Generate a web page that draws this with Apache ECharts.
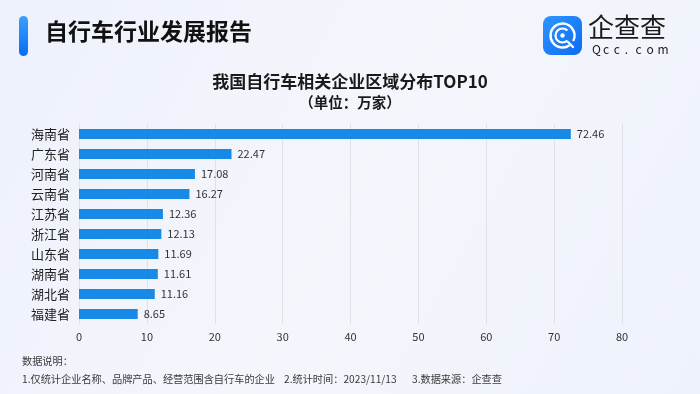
<!DOCTYPE html>
<html><head><meta charset="utf-8">
<script src="https://cdn.jsdelivr.net/npm/echarts@6/dist/echarts.min.js"></script>
<style>html,body{margin:0;padding:0;width:700px;height:394px;overflow:hidden;}#c{width:700px;height:394px;}</style>
</head><body><div id="c"></div>
<script>
const categories = ['海南省','广东省','河南省','云南省','江苏省','浙江省','山东省','湖南省','湖北省','福建省'];
const values = [72.46, 22.47, 17.08, 16.27, 12.36, 12.13, 11.69, 11.61, 11.16, 8.65];
const xTicks = [0, 10, 20, 30, 40, 50, 60, 70, 80];
const noteTitle = '数据说明：';
const notes = ['1.仅统计企业名称、品牌产品、经营范围含自行车的企业', '2.统计时间：2023/11/13', '3.数据来源：企查查'];

const FONT = '"Noto Sans CJK SC", "Noto Sans", sans-serif';
const chart = echarts.init(document.getElementById('c'), null, {renderer: 'canvas'});

const logoChars = 'Qcc.com'.split('');
const logoText = logoChars.map((ch, i) => ({
  type: 'text', x: 592 + i * 10.9, y: 43,
  style: {text: ch, font: '12px ' + FONT, fill: '#1a1a1a'}
}));
const noteX = [22, 284, 412];
const noteText = notes.map((t, i) => ({
  type: 'text', left: noteX[i], top: 374,
  style: {text: t, font: '10.2px ' + FONT, fill: '#3a3a3a'}
}));

chart.setOption({
  backgroundColor: {
    type: 'linear', x: 0, y: 0, x2: 1, y2: 1,
    colorStops: [{offset: 0, color: '#edf1fb'}, {offset: 0.5, color: '#f4f6fc'}, {offset: 1, color: '#eef2fb'}]
  },
  textStyle: {fontFamily: FONT},
  title: [
    {text: '我国自行车相关企业区域分布TOP10', left: 'center', top: 68,
     textStyle: {fontSize: 17, fontWeight: 'bold', color: '#1a1a1a', fontFamily: FONT}},
    {text: '（单位：万家）', left: 'center', top: 90,
     textStyle: {fontSize: 14.5, fontWeight: 'bold', color: '#1a1a1a', fontFamily: FONT}}
  ],
  grid: {left: 79, right: 78, top: 124, bottom: 70, containLabel: false},
  xAxis: {
    type: 'value', min: xTicks[0], max: xTicks[xTicks.length - 1], interval: 10,
    axisLine: {show: false}, axisTick: {show: false},
    axisLabel: {color: '#333', fontSize: 11, margin: 7, fontFamily: FONT},
    splitLine: {show: true, lineStyle: {color: '#dfe1e6', width: 1}}
  },
  yAxis: {
    type: 'category', data: categories, inverse: true,
    axisLine: {show: false}, axisTick: {show: false},
    axisLabel: {color: '#222', fontSize: 13, margin: 9, fontFamily: FONT}
  },
  series: [{
    type: 'bar', data: values, barWidth: 10,
    itemStyle: {color: '#1789e6'},
    label: {show: true, position: 'right', distance: 6, color: '#333', fontSize: 11, fontFamily: FONT,
            formatter: p => p.value.toFixed(2)}
  }],
  graphic: [
    {type: 'rect', left: 19, top: 16, shape: {width: 9, height: 40, r: 4.5},
     style: {fill: {type: 'linear', x: 0, y: 0, x2: 0, y2: 1, colorStops: [{offset: 0, color: '#3aa0ff'}, {offset: 1, color: '#0a6cf0'}]}}},
    {type: 'text', left: 45, top: 20, style: {text: '自行车行业发展报告', font: 'bold 23px ' + FONT, fill: '#111'}},
    {type: 'rect', left: 543, top: 16, shape: {width: 39, height: 39, r: 8},
     style: {fill: {type: 'linear', x: 0, y: 0, x2: 1, y2: 1, colorStops: [{offset: 0, color: '#2f95ff'}, {offset: 1, color: '#0b6cf2'}]}}},
    {type: 'arc', shape: {cx: 562.5, cy: 35.5, r: 12, startAngle: Math.PI * 0.3, endAngle: Math.PI * 2.15},
     style: {stroke: '#fff', lineWidth: 2.4, fill: null}},
    {type: 'arc', shape: {cx: 562.5, cy: 35.5, r: 7, startAngle: Math.PI * 0.25, endAngle: Math.PI * 1.75},
     style: {stroke: '#fff', lineWidth: 2.2, fill: null}},
    {type: 'circle', shape: {cx: 562.5, cy: 35.5, r: 2.2}, style: {fill: '#fff'}},
    {type: 'line', shape: {x1: 568, y1: 42, x2: 573, y2: 47}, style: {stroke: '#fff', lineWidth: 2.4, lineCap: 'round'}},
    {type: 'text', left: 588, top: 14, style: {text: '企查查', font: '26px ' + FONT, fill: '#1a1a1a'}},
    ...logoText,
    {type: 'text', left: 22, top: 356, style: {text: noteTitle, font: '10.2px ' + FONT, fill: '#3a3a3a'}},
    ...noteText
  ]
});
</script></body></html>
